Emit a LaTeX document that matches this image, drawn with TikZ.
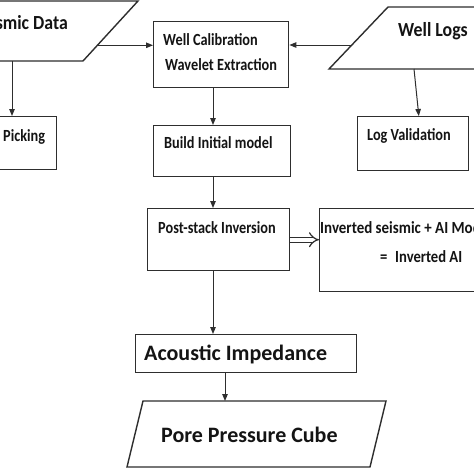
\documentclass[tikz,border=0pt]{standalone}
\usepackage{fontspec}
\setmainfont{Carlito}
\usetikzlibrary{arrows.meta,calc}
\definecolor{linec}{HTML}{2E2E2E}
\definecolor{textc}{HTML}{141414}
\newcommand{\sx}[1]{\scalebox{0.84}[1]{#1}}
\newcommand{\bx}[1]{\scalebox{0.89}[1]{#1}}
\begin{document}
\begin{tikzpicture}[x=1pt,y=-1pt,
  box/.style={draw=linec,line width=1.4pt,inner sep=0pt,fill=white},
  shapeline/.style={draw=linec,line width=1.4pt,line join=miter},
  arr/.style={draw=linec,line width=1pt,-{Triangle[length=7pt,width=5.5pt]}},
  dblarr/.style={draw=linec,line width=1.2pt,double,double distance=4pt,-{Implies[scale=1.6]}},
  smalltxt/.style={inner sep=0pt,anchor=base west,text=textc,font=\bfseries\fontsize{17}{17}\selectfont},
  bigtxt/.style={inner sep=0pt,anchor=base west,text=textc,font=\bfseries\fontsize{20}{20}\selectfont},
  hugetxt/.style={inner sep=0pt,anchor=base west,text=textc,font=\bfseries\fontsize{22}{22}\selectfont}
]
\useasboundingbox[fill=white] (0,0) rectangle (474,474);

% Seismic Data parallelogram (partly outside)
\coordinate (sdtr) at (138,1);
\coordinate (sdbr) at (83,61);
\draw[shapeline] (-20,1) -- (sdtr) -- (sdbr) -- (-20,61);
\node[bigtxt,anchor=base east] (sdt) at (68,29) {\bx{Seismic Data}};
\coordinate (sd1) at ($(sdbr)!0.262!(sdtr)$);
\coordinate (sd2) at (12,61);

% Well Logs parallelogram (partly outside)
\coordinate (wltl) at (388,7);
\coordinate (wlbl) at (329,69);
\draw[shapeline] (500,7) -- (wltl) -- (wlbl) -- (500,69);
\node[bigtxt] (wlt) at (398,36) {\bx{Well Logs}};
\coordinate (wl1) at ($(wlbl)!0.387!(wltl)$);
\coordinate (wl2) at (414,69);

% Boxes
\node[box,anchor=north west,minimum width=135pt,minimum height=66pt] (wc) at (153,21) {};
\node[box,anchor=north west,minimum width=137pt,minimum height=51pt] (bi) at (153,125) {};
\node[box,anchor=north west,minimum width=142pt,minimum height=62pt] (ps) at (147,208) {};
\node[box,anchor=north west,minimum width=180pt,minimum height=83pt] (inv) at (319,208) {};
\node[box,anchor=north east,minimum width=90pt,minimum height=53pt] (pk) at (57,116) {};
\node[box,anchor=north west,minimum width=111pt,minimum height=54pt] (lv) at (357,116) {};
\node[box,anchor=north west,minimum width=221pt,minimum height=38pt] (ai) at (135,334) {};

% Pore Pressure Cube parallelogram
\coordinate (pctl) at (143,401);
\coordinate (pctr) at (386,401);
\coordinate (pcbr) at (370,467);
\coordinate (pcbl) at (127,467);
\draw[shapeline] (pctl) -- (pctr) -- (pcbr) -- (pcbl) -- cycle;

% Texts
\node[smalltxt] (t1) at (163,45) {\sx{Well Calibration}};
\node[smalltxt] (t2) at (165,70) {\sx{Wavelet Extraction}};
\node[smalltxt] (t3) at (164,148) {\sx{Build Initial model}};
\node[smalltxt] (t4) at (158,233) {\sx{Post-stack Inversion}};
\node[smalltxt] (t5) at (320,233) {\scalebox{0.88}[1]{Inverted seismic + AI Model}};
\node[smalltxt] (t6) at (380,262) {\scalebox{0.86}[1]{=\hspace{9pt}Inverted AI}};
\node[smalltxt] (t7) at (3,141) {\sx{Picking}};
\node[smalltxt] (t8) at (367,140) {\sx{Log Validation}};
\node[hugetxt] (t9) at (144,360.5) {Acoustic Impedance};
\node[hugetxt] (t10) at (161,442) {Pore Pressure Cube};

% Connectors
\coordinate (cx) at (213,0);
\coordinate (cx2) at (225,0);
\coordinate (lvx) at ($(lv.north west)!0.55!(lv.north east)$);
\draw[arr] (sd1) -- (wc.west |- sd1);
\draw[arr] (wl1) -- (wc.east |- wl1);
\draw[arr] (sd2) -- (pk.north -| sd2);
\draw[arr] (wl2) -- (lvx);
\draw[arr] (wc.south -| cx) -- (bi.north -| cx);
\draw[arr] (bi.south -| cx) -- (ps.north -| cx);
\draw[arr] (ps.south -| cx) -- (ai.north -| cx);
\draw[arr] (ai.south -| cx2) -- (pctl -| cx2);
\draw[dblarr] (ps.east) -- (ps.east -| inv.west);
\end{tikzpicture}
\end{document}
